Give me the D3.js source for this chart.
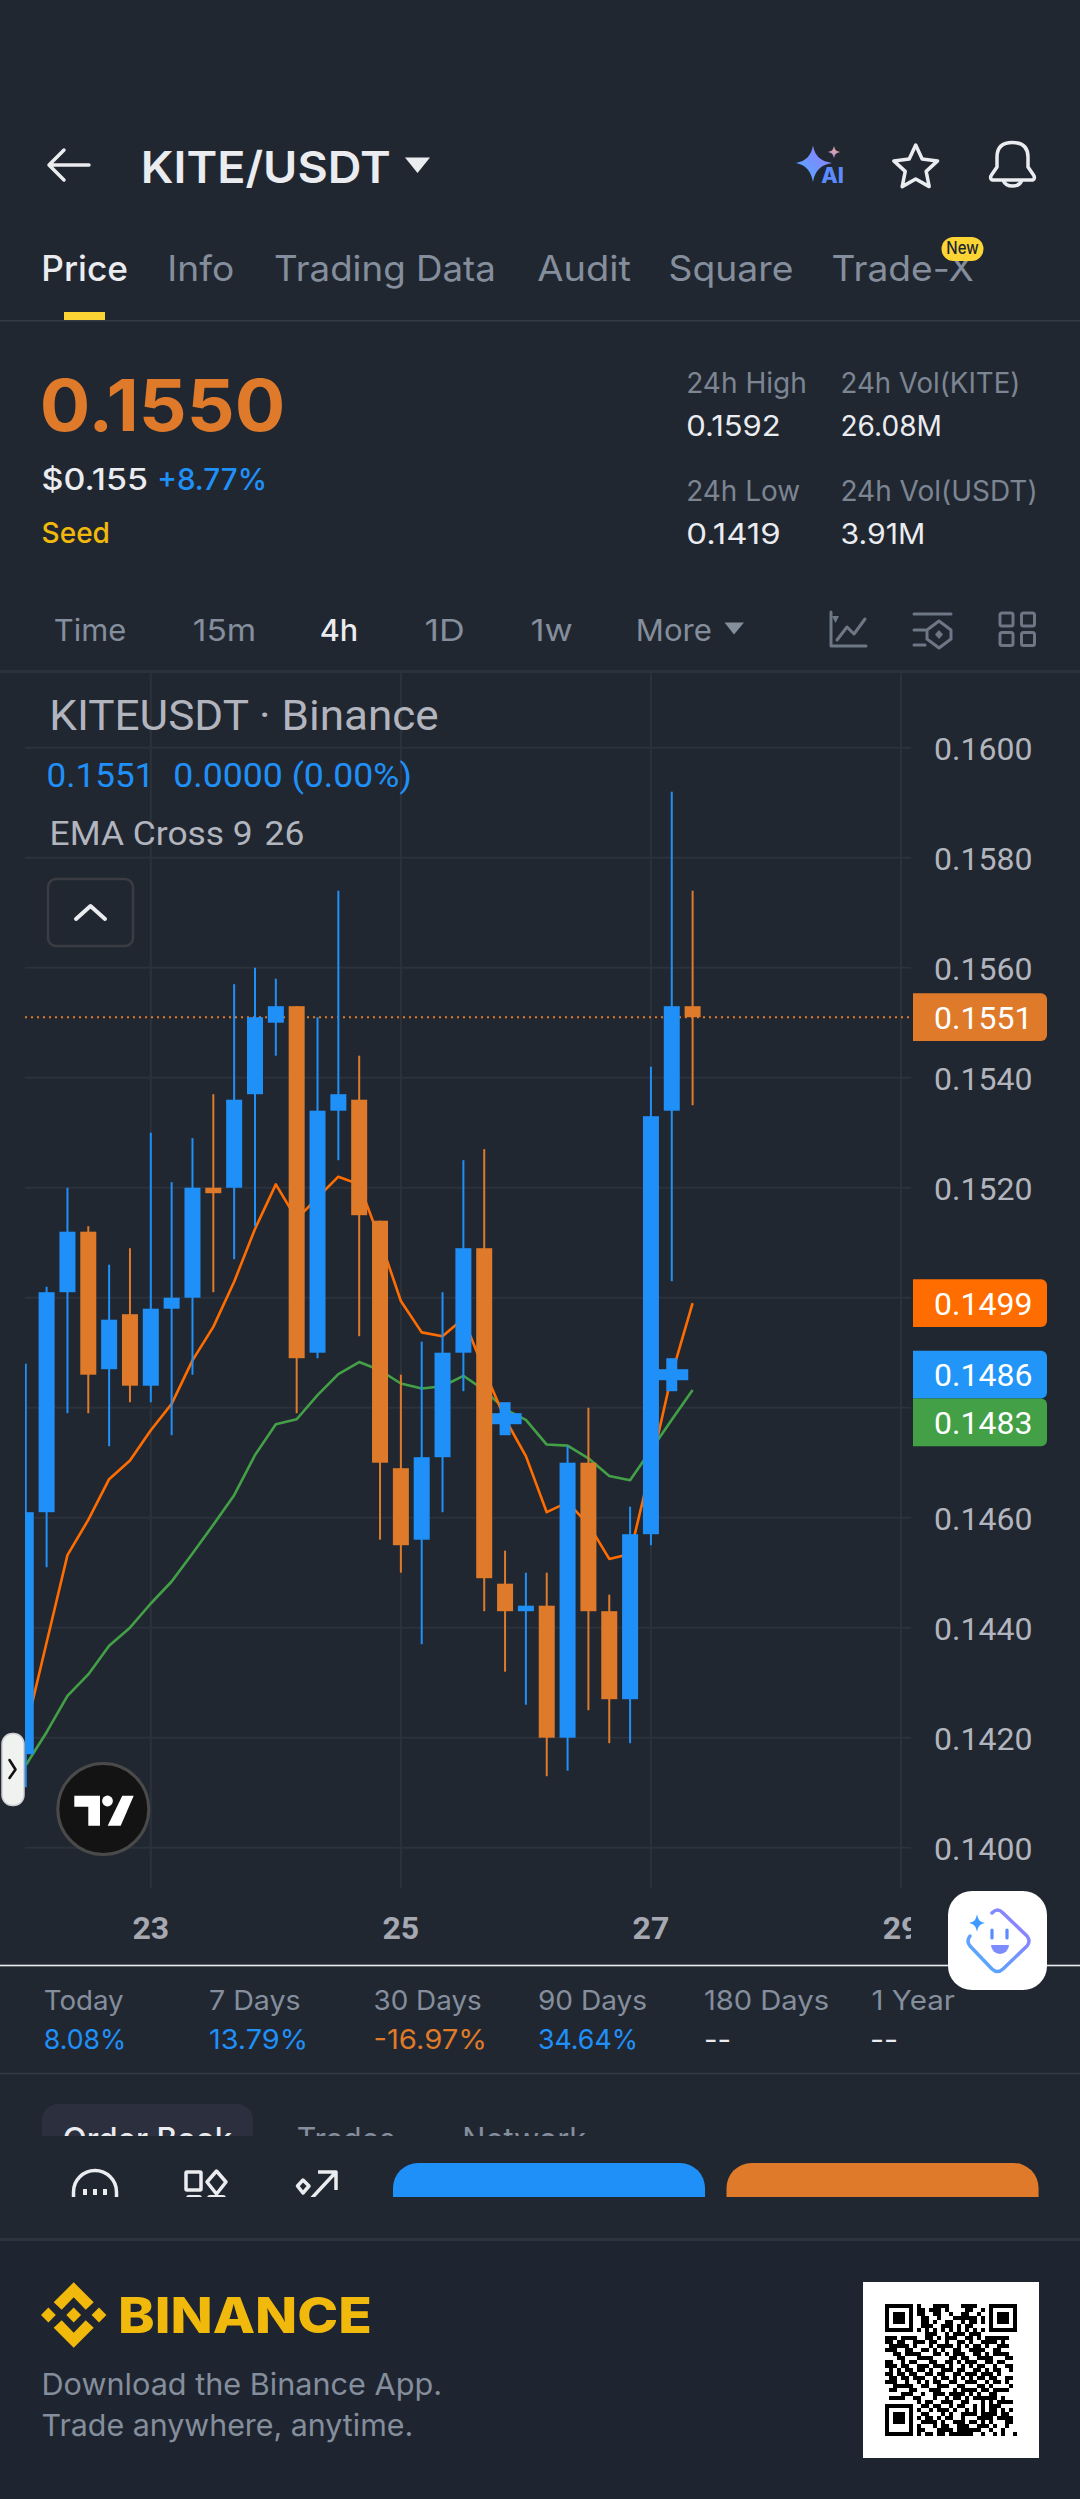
<!DOCTYPE html>
<html><head><meta charset="utf-8">
<script src="https://cdn.jsdelivr.net/npm/d3@7/dist/d3.min.js"></script>
<style>html,body{margin:0;padding:0;background:#212731;width:1080px;height:2499px;overflow:hidden}svg{display:block}</style>
</head><body><div id="c"></div>
<script>
// ---- chart data ----
const candleOffsets=[-6,-5,-4,-3,-2,-1,0,1,2,3,4,5,6,7,8,9,10,11,12,13,14,15,16,17,18,19,20,21,22,23,24,25,26];
const opens=[.1417,.1461,.1501,.1512,.1487,.1497,.1484,.1498,.1500,.1520,.1520,.1537,.1550,.1553,.1490,.1534,.1536,.1514,.1469,.1456,.1471,.1490,.1509,.1448,.1443,.1444,.1420,.1470,.1443,.1427,.1457,.1534,.1553];
const closes=[.1461,.1501,.1512,.1486,.1496,.1484,.1498,.1500,.1520,.1519,.1536,.1551,.1553,.1489,.1534,.1537,.1515,.1470,.1455,.1471,.1490,.1509,.1449,.1443,.1444,.1420,.1470,.1443,.1427,.1457,.1533,.1553,.1551];
const highs=[.1488,.1502,.1520,.1513,.1506,.1509,.1530,.1521,.1529,.1537,.1557,.1560,.1558,.1553,.1551,.1574,.1544,.1514,.1486,.1492,.1501,.1525,.1527,.1454,.1450,.1450,.1473,.1480,.1446,.1462,.1542,.1592,.1574];
const lows=[.1411,.1451,.1479,.1479,.1473,.1481,.1481,.1475,.1486,.1501,.1507,.1513,.1544,.1479,.1489,.1525,.1493,.1456,.1450,.1437,.1461,.1483,.1443,.1432,.1426,.1413,.1414,.1425,.1419,.1419,.1455,.1503,.1535];
const emaFast=[.14214,.14373,.14532,.14596,.14670,.14704,.14759,.14807,.14886,.14947,.15029,.15125,.15206,.15143,.15182,.15220,.15206,.15105,.14994,.14937,.14930,.14962,.14868,.14780,.14712,.14610,.14628,.14588,.14525,.14534,.14693,.14860,.14990];
const emaSlow=[.14150,.14210,.14276,.14315,.14367,.14400,.14444,.14484,.14535,.14587,.14641,.14714,.14770,.14779,.14823,.14861,.14883,.14868,.14844,.14835,.14839,.14858,.14832,.14797,.14778,.14733,.14731,.14708,.14676,.14668,.14723,.14778,.14832];
const crossOffsets=[17,25];
const crossValues=[.1478,.1486];
const priceTicks=[.16,.158,.156,.154,.152,.15,.148,.146,.144,.142,.14];
const dayTickOffsets=[0,12,24,36];
const dayTickLabels=["23","25","27","29"];
const lastPrice=.1551;
const priceTags=[[.1551,"#DE7A2A"],[.1499,"#FF6D00"],[.1486,"#2196F8"],[.1483,"#43A047"]];

const BG="#212731",BLUE="#2090F9",ORANGE="#DE7A2A",GRID="#2B323B",GREY="#848E9C";
const UI="Inter, 'Open Sans', sans-serif",RB="Roboto, sans-serif";
const svg=d3.select("#c").append("svg").attr("width",1080).attr("height",2499).attr("viewBox","0 0 1080 2499");
const defs=svg.append("defs");
function clip(id,x,y,w,h){defs.append("clipPath").attr("id",id).append("rect").attr("x",x).attr("y",y).attr("width",w).attr("height",h);}
clip("plot",25,660,886,1240);clip("xlab",25,1890,886,70);clip("tabs",0,2090,1080,46);clip("bar",0,2150,1080,47);
const g1=defs.append("linearGradient").attr("id","aiG").attr("x1",0).attr("y1",1).attr("x2",1).attr("y2",0);
g1.append("stop").attr("offset",0).attr("stop-color","#4AB0FF");g1.append("stop").attr("offset",1).attr("stop-color","#9A78FF");
const g2=defs.append("linearGradient").attr("id","aiS").attr("x1",0).attr("y1",1).attr("x2",1).attr("y2",0);
g2.append("stop").attr("offset",0).attr("stop-color","#A98BF5");g2.append("stop").attr("offset",1).attr("stop-color","#F6B07A");

svg.append("rect").attr("width",1080).attr("height",2499).attr("fill",BG);

function T(s,x0,x1,b,size,weight,color,font,parent){
  const pad=size*0.04;
  const t=(parent||svg).append("text").attr("x",x0-pad).attr("y",b).attr("font-size",size).attr("font-weight",weight).attr("fill",color).attr("font-family",font||UI).text(s);
  if(x1!=null) t.attr("textLength",x1-x0+2*pad).attr("lengthAdjust","spacingAndGlyphs");
  return t;
}
function P(d,o){const p=svg.append("path").attr("d",d).attr("fill",o.fill||"none");if(o.stroke)p.attr("stroke",o.stroke).attr("stroke-width",o.w||3).attr("stroke-linecap","round").attr("stroke-linejoin","round");if(o.clip)p.attr("clip-path",`url(#${o.clip})`);return p;}

// ---- header ----
P("M89 165H50M64 150L49 165L64 180",{stroke:"#EAECEF",w:3.5});
T("KITE/USDT",142.5,389,182.5,44,600,"#EAECEF");
P("M405 157.5H430L417.5 173Z",{fill:"#EAECEF"});
P("M813 145.5C815 156 820 161 832 163C820 165 815 171 813 182C811 171 806 165 796 163C806 161 811 156 813 145.5Z",{fill:"url(#aiG)"});
P("M834 146C835 150 836 151 840 152C836 153 835 154 834 158C833 154 832 153 828 152C832 151 833 150 834 146Z",{fill:"url(#aiS)"});
T("AI",822,843,183,21,800,"#5C8BFF");
const star=d3.range(10).map(i=>{const r=i%2?11:23,a=-Math.PI/2+i*Math.PI/5;return [915.7+r*Math.cos(a),168+r*Math.sin(a)];});
P("M"+star.join("L")+"Z",{stroke:"#EAECEF",w:3.5});
P("M992 180L1033 180Q1035.5 178 1033.5 175L1028 167V157C1028 146 1021 142.5 1012.5 142.5C1004 142.5 997 146 997 157V167L991.5 175Q989.5 178 992 180Z",{stroke:"#EAECEF",w:3.5});
P("M1003.5 181A9.5 7.5 0 0 0 1021.5 181",{stroke:"#EAECEF",w:3.5});

[["Price",42.7,126.7,"#EAECEF",500],["Info",168.7,232.8,GREY,400],["Trading Data",275.5,494.5,GREY,400],["Audit",538.6,629.5,GREY,400],["Square",670,792,GREY,400],["Trade-X",833,972.5,GREY,400]]
.forEach(d=>T(d[0],d[1],d[2],280.7,35,d[4],d[3]));
svg.append("rect").attr("x",941.5).attr("y",237).attr("width",42).attr("height",24).attr("rx",12).attr("fill","#FCD535");
T("New",947,978,254,17,500,"#202630");
svg.append("rect").attr("x",64).attr("y",312).attr("width",41).attr("height",8).attr("fill","#FCD535");
svg.append("rect").attr("x",0).attr("y",320).attr("width",1080).attr("height",1.5).attr("fill","#333B47");

// ---- price block ----
T("0.1550",42.7,282.4,430.5,72,700,ORANGE);
T("$0.155",42.7,146.7,490,30,500,"#EAECEF");
T("+8.77%",158.4,265.8,490,30,500,BLUE);
T("Seed",42.7,108.8,543,29,500,"#F0B90B");
[["24h High",687.3,805.8,393],["24h Vol(KITE)",841.6,1019.3,393],["24h Low",687.3,798.9,501],["24h Vol(USDT)",841.6,1036.5,501]].forEach(d=>T(d[0],d[1],d[2],d[3],28,400,"#7C8592"));
[["0.1592",687.3,779.6,436],["26.08M",841.6,940.8,436],["0.1419",687.3,779.6,544],["3.91M",841.6,924.2,544]].forEach(d=>T(d[0],d[1],d[2],d[3],28,400,"#EAECEF"));

// ---- interval row ----
[["Time",55,125,GREY,400],["15m",194,255,GREY,400],["4h",321,357,"#EAECEF",500],["1D",425.6,463.5,GREY,400],["1w",531.7,571.6,GREY,400],["More",637,710.7,GREY,400]]
.forEach(d=>T(d[0],d[1],d[2],640.8,30,d[4],d[3]));
P("M724.5 622.5H744L734 634.5Z",{fill:GREY});
const IC="#6E7785";
P("M831 612V646H866M837 640L847 627L854 634L865 619",{stroke:IC,w:3});
P("M832 616L839 616L835.5 623Z",{fill:IC});
P("M914 614H951M914 630H925M914 645H925",{stroke:IC,w:3});
P("M939 621L951 630V639L939 648L927 639V630Z",{stroke:IC,w:3});
P("M939 630L943 634.5L939 639L935 634.5Z",{fill:IC});
[[1000,613],[1021.5,613],[1000,632.5],[1021.5,632.5]].forEach(d=>svg.append("rect").attr("x",d[0]).attr("y",d[1]).attr("width",13).attr("height",13).attr("rx",2).attr("fill","none").attr("stroke",IC).attr("stroke-width",3));

// ---- chart ----
const x=d3.scaleLinear().domain([0,36]).range([150.8,901]);
const y=d3.scaleLinear().domain([.14,.16]).range([1847.7,747.7]);
svg.append("rect").attr("x",0).attr("y",670).attr("width",1080).attr("height",3).attr("fill",GRID);
const grid=svg.append("g").attr("stroke",GRID).attr("stroke-width",2);
grid.selectAll(".h").data(priceTicks).join("line").attr("x1",25).attr("x2",911).attr("y1",d=>y(d)).attr("y2",d=>y(d));
grid.selectAll(".v").data(dayTickOffsets).join("line").attr("x1",d=>x(d)).attr("x2",d=>x(d)).attr("y1",670).attr("y2",1888);

const plot=svg.append("g").attr("clip-path","url(#plot)");
plot.append("line").attr("x1",25).attr("x2",911).attr("y1",y(lastPrice)).attr("y2",y(lastPrice)).attr("stroke",ORANGE).attr("stroke-width",2).attr("stroke-dasharray","2 4");
const line=d3.line().x((d,i)=>x(candleOffsets[i])).y(d=>y(d));
plot.append("path").attr("d",line(emaSlow)).attr("fill","none").attr("stroke","#43A047").attr("stroke-width",2.6).attr("stroke-linejoin","round");
plot.append("path").attr("d",line(emaFast)).attr("fill","none").attr("stroke","#FF6D00").attr("stroke-width",2.6).attr("stroke-linejoin","round");
const plus=plot.selectAll(".p").data(crossOffsets).join("g");
plus.append("rect").attr("x",(d,i)=>x(d)-16.5).attr("width",33).attr("y",(d,i)=>y(crossValues[i])-5.5).attr("height",11).attr("fill",BLUE);
plus.append("rect").attr("x",(d,i)=>x(d)-5.5).attr("width",11).attr("y",(d,i)=>y(crossValues[i])-16.5).attr("height",33).attr("fill",BLUE);
const col=i=>closes[i]>=opens[i]?BLUE:ORANGE;
const c=plot.selectAll(".c").data(candleOffsets).join("g");
c.append("rect").attr("x",d=>x(d)-1).attr("width",2).attr("y",(d,i)=>y(highs[i])).attr("height",(d,i)=>y(lows[i])-y(highs[i])).attr("fill",(d,i)=>col(i));
c.append("rect").attr("x",d=>x(d)-8).attr("width",16).attr("y",(d,i)=>y(Math.max(opens[i],closes[i]))).attr("height",(d,i)=>Math.abs(y(opens[i])-y(closes[i]))).attr("fill",(d,i)=>col(i));

// price tags, pushed down when they would overlap
const TH=47.7;let last=-1e9;
const tags=priceTags.map(t=>{let cy=y(t[0]);if(cy-TH/2<last)cy=last+TH/2;last=cy+TH/2;return {v:t[0],c:t[1],cy};});
const rY=d3.axisRight(y).tickValues(priceTicks.filter(v=>!tags.some(t=>Math.abs(y(v)-t.cy)<36))).tickSize(0).tickPadding(23).tickFormat(d3.format(".4f"));
const ya=svg.append("g").attr("transform","translate(911,0)").call(rY);
ya.select(".domain").remove();
ya.selectAll("text").attr("dy","0.355em").attr("font-size",32).attr("font-family",RB).attr("fill","#B2B5BE");
const tg=svg.selectAll(".tag").data(tags).join("g");
tg.append("path").attr("d",d=>`M913 ${d.cy-TH/2}H1041a6 6 0 0 1 6 6V${d.cy+TH/2-6}a6 6 0 0 1 -6 6H913Z`).attr("fill",d=>d.c);
tg.append("text").attr("x",934).attr("y",d=>d.cy+11.5).attr("font-size",32).attr("font-family",RB).attr("fill","#fff").text(d=>d3.format(".4f")(d.v));

const xa=svg.append("g").attr("clip-path","url(#xlab)");
xa.selectAll("text").data(dayTickOffsets).join("text").attr("x",d=>x(d)).attr("y",1939).attr("text-anchor","middle").attr("font-size",32).attr("font-weight",700).attr("font-family",RB).attr("fill","#A6A9B1").text((d,i)=>dayTickLabels[i]);

// legend
T("KITEUSDT · Binance",51,437,730,43,400,"#B2B5BE",RB);
T("0.1551",48,153,787,34,400,BLUE,RB);
T("0.0000 (0.00%)",174.6,410.5,787,34,400,BLUE,RB);
T("EMA Cross 9",51,251.4,845,34,400,"#B2B5BE",RB);
T("26",265.9,303,845,34,400,"#B2B5BE",RB);
svg.append("rect").attr("x",48).attr("y",879).attr("width",85).attr("height",67).attr("rx",8).attr("fill",BG).attr("stroke","#3B3C43").attr("stroke-width",2.5);
P("M76 919L90.5 906L105 919",{stroke:"#EAECEF",w:4});

// left handle + TradingView badge
svg.append("rect").attr("x",2).attr("y",1733.5).attr("width",22).attr("height",72).attr("rx",10.5).attr("fill","#EFF2EF").attr("stroke","#CFCFD4").attr("stroke-width",1.5);
P("M9.5 1760L15.5 1769.5L9.5 1778",{stroke:"#111",w:2.6});
svg.append("circle").attr("cx",103.3).attr("cy",1809).attr("r",45.5).attr("fill","#131313").attr("stroke","#4A4A4A").attr("stroke-width",3);
P("M74.3 1795.7H100V1825.7H88.3V1806.7H74.3Z",{fill:"#fff"});
svg.append("circle").attr("cx",107.5).attr("cy",1801).attr("r",5.4).attr("fill","#fff");
P("M122.3 1795.7H133.7L120.7 1825.7H107.7Z",{fill:"#fff"});

// assistant button
svg.append("rect").attr("x",0).attr("y",1964.7).attr("width",1080).attr("height",1.6).attr("fill","#EAECEF");
svg.append("rect").attr("x",948).attr("y",1891).attr("width",99).attr("height",99).attr("rx",24).attr("fill","#fff");
P("M992 1913Q997.5 1907 1003 1913L1027 1936Q1031 1941 1027 1946L1003 1969Q997.5 1974 992 1969L970 1946Q966 1941 970 1936",{stroke:"url(#aiG)",w:3.5});
P("M977 1914C978 1920 980 1922 985 1923C980 1924 978 1926 977 1932C976 1926 974 1924 969 1923C974 1922 976 1920 977 1914Z",{fill:"#3D9BFF"});
P("M992 1930V1938M1007 1930V1938",{stroke:"#5C8BFF",w:3.2});
P("M991 1945H1009A9 9 0 0 1 991 1945Z",{fill:"#7C8CFF"});

// ---- performance row ----
[["Today",44.8,122.6],["7 Days",210,299.6],["30 Days",374.6,480.7],["90 Days",539,646],["180 Days",705,828],["1 Year",872.6,953.8]].forEach(d=>T(d[0],d[1],d[2],2009.6,27,400,GREY));
[["8.08%",44.8,125.3,BLUE],["13.79%",210,307,BLUE],["-16.97%",374.6,486,ORANGE],["34.64%",539,637,BLUE],["--",705,730,"#EAECEF"],["--",871,897,"#EAECEF"]].forEach(d=>T(d[0],d[1],d[2],2048.5,27,400,d[3]));
svg.append("rect").attr("x",0).attr("y",2072.7).attr("width",1080).attr("height",1.6).attr("fill","#333B47");

// ---- clipped tabs ----
const tabs=svg.append("g").attr("clip-path","url(#tabs)");
tabs.append("rect").attr("x",42).attr("y",2104).attr("width",211).attr("height",80).attr("rx",16).attr("fill","#2B2F3E");
T("Order Book",64,231,2150,31,500,"#EAECEF",UI,tabs);
T("Trades",298,394,2150,31,400,GREY,UI,tabs);
T("Network",463.5,585,2150,31,400,GREY,UI,tabs);

// ---- action bar ----
const bar=svg.append("g").attr("clip-path","url(#bar)");
function BP(d,o){const p=bar.append("path").attr("d",d).attr("fill",o.fill||"none");if(o.stroke)p.attr("stroke",o.stroke).attr("stroke-width",o.w||3).attr("stroke-linejoin","round");}
BP("M73.5 2210V2192A21.5 21.5 0 0 1 116.5 2192V2210",{stroke:"#EAECEF",w:3.5});
[85,95,105].forEach(v=>bar.append("rect").attr("x",v-2).attr("y",2189).attr("width",4).attr("height",6).attr("fill","#EAECEF"));
bar.append("rect").attr("x",186).attr("y",2172).attr("width",15).attr("height",18).attr("rx",1).attr("fill","none").attr("stroke","#EAECEF").attr("stroke-width",3.5);
BP("M216.5 2171L226 2182L216.5 2194L207 2182Z",{stroke:"#EAECEF",w:3.5});
bar.append("rect").attr("x",186).attr("y",2195).attr("width",16).attr("height",6).attr("rx",3).attr("fill","#EAECEF");
bar.append("rect").attr("x",207).attr("y",2195).attr("width",19).attr("height",6).attr("rx",3).attr("fill","#EAECEF");
BP("M303 2180L309 2186L303 2193L297.5 2186Z",{stroke:"#EAECEF",w:3.5});
BP("M318 2172H336V2190M336 2172L310 2200",{stroke:"#EAECEF",w:3.5});
const btn=(x0,x1,f)=>bar.append("path").attr("d",`M${x0} 2200V2188a25 25 0 0 1 25 -25H${x1-25}a25 25 0 0 1 25 25V2200Z`).attr("fill",f);
btn(393,705,BLUE);btn(726.5,1038.6,ORANGE);

// ---- footer ----
svg.append("rect").attr("x",0).attr("y",2238).attr("width",1080).attr("height",261).attr("fill","#1F2530");
svg.append("rect").attr("x",0).attr("y",2238).attr("width",1080).attr("height",3).attr("fill","#2D333E");
const lg=svg.append("g").attr("transform","translate(73.7,2315)").attr("fill","#F0B90B");
lg.append("path").attr("d","M0 -32.7L20 -12.7L12 -5.2L0 -17.7L-12 -5.2L-20 -12.7Z");
lg.append("path").attr("d","M0 32.7L20 12.7L12 5.2L0 17.7L-12 5.2L-20 12.7Z");
[[0,0],[-25.3,0],[25.3,0]].forEach(d=>lg.append("path").attr("d",`M${d[0]} -7.4L${d[0]+7.4} 0L${d[0]} 7.4L${d[0]-7.4} 0Z`));
T("BINANCE",120,370,2332.7,49.5,800,"#F0B90B");
T("Download the Binance App.",42.7,440.8,2394.7,30,400,GREY);
T("Trade anywhere, anytime.",42.7,412,2436.4,30,400,GREY);

// QR
const qrRows=[
"111111101000111100011110001111111","100000101101110100001100101000001","101110101100110010011001001011101","101110100110010001111110101011101","101110100110100110010110101011101","100000100111001110101100001000001","111111101010101010101010101111111","000000000011100101110111000000000","111011110011010111001101011111100","110110011101100100110100111101000","011111010001011110101011010011100","111001100110101001100111100110000","001101111000110101110011010111100","000110001111000011011001111000110","110010110001100110101110011011000","111011001110111010010101100100110","010101101101001110110011010110010","110110110011011001101110111010000","011011011100101101010101101100110","111001001010110011001110010110100","001111100110011100110001101000010","011000110001110001011110110111100","000011100100111011110101001100000","011110011000100101101011111101000","000000001011001110011000101011110","111111100110110010110010101110000","100000101001011101001010101101010","101110100110001010011110111101100","101110101011010110010001111011110","101110100111101001110110101000110","100000101000101100111001110100100","100000101100011110111111001001000","111111101011011011111100100101001"];
svg.append("rect").attr("x",863).attr("y",2282).attr("width",176).attr("height",176).attr("fill","#fff");
const qr=svg.append("g").attr("transform","translate(885,2304)").attr("fill","#000");
qrRows.forEach((r,j)=>r.split("").forEach((b,i)=>{if(b==="1")qr.append("rect").attr("x",i*4).attr("y",j*4).attr("width",4).attr("height",4);}));
</script></body></html>
